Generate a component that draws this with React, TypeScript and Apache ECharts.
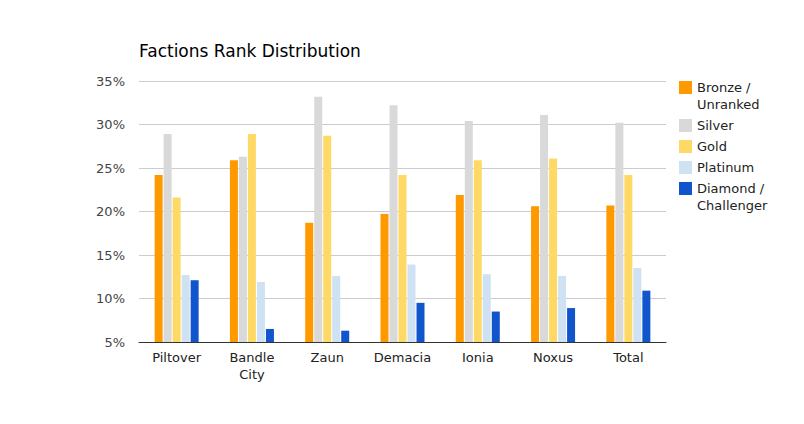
import { useEffect, useRef } from "react";
import * as echarts from "echarts";

const factions = ["Piltover", "Bandle\nCity", "Zaun", "Demacia", "Ionia", "Noxus", "Total"];
const bronze = [24.2, 25.9, 18.7, 19.7, 21.9, 20.6, 20.7];
const silver = [28.9, 26.3, 33.2, 32.2, 30.4, 31.1, 30.2];
const gold = [21.6, 28.9, 28.7, 24.2, 25.9, 26.1, 24.2];
const platinum = [12.7, 11.9, 12.6, 13.9, 12.8, 12.6, 13.5];
const diamond = [12.1, 6.5, 6.3, 9.5, 8.5, 8.9, 10.9];

const seriesDefs = [
  { name: "Bronze /\nUnranked", data: bronze, color: "#ff9900" },
  { name: "Silver", data: silver, color: "#d9d9d9" },
  { name: "Gold", data: gold, color: "#ffd966" },
  { name: "Platinum", data: platinum, color: "#cfe2f3" },
  { name: "Diamond /\nChallenger", data: diamond, color: "#1155cc" },
];

const FONT = "'DejaVu Sans', sans-serif";

const legendBase = {
  orient: "vertical",
  left: 679,
  padding: 0,
  itemWidth: 13,
  itemHeight: 13,
  itemGap: 4,
  icon: "rect",
  // two-line names get a blank first line so the square sits beside line one
  formatter: (name: string) => (name.includes("\n") ? "\n" + name : name),
  textStyle: { fontFamily: FONT, fontSize: 13, color: "#222", lineHeight: 17 },
};

export default function App() {
  const ref = useRef<HTMLDivElement | null>(null);

  useEffect(() => {
    if (!ref.current) return;
    const chart = echarts.init(ref.current, null, { renderer: "svg" });
    chart.setOption({
      animation: false,
      backgroundColor: "#fff",
      textStyle: { fontFamily: FONT },
      title: {
        text: "Factions Rank Distribution",
        left: 139,
        top: 42,
        padding: 0,
        textStyle: { fontFamily: FONT, fontSize: 17, fontWeight: "normal", color: "#000" },
      },
      legend: [
        { ...legendBase, top: 62, data: seriesDefs.slice(0, 4).map((s) => s.name) },
        { ...legendBase, top: 163, data: seriesDefs.slice(4).map((s) => s.name) },
      ],
      grid: { left: 139, right: 138, top: 81, bottom: 82 },
      xAxis: {
        type: "category",
        data: factions,
        axisLine: { lineStyle: { color: "#333", width: 1 } },
        axisTick: { show: false },
        axisLabel: {
          interval: 0,
          margin: 7,
          color: "#222",
          fontFamily: FONT,
          fontSize: 13,
          lineHeight: 17,
        },
      },
      yAxis: {
        type: "value",
        min: 5,
        max: 35,
        interval: 5,
        axisLine: { show: false },
        axisTick: { show: false },
        splitLine: { lineStyle: { color: "#cccccc", width: 1 } },
        axisLabel: {
          formatter: "{value}%",
          margin: 14,
          color: "#444",
          fontFamily: FONT,
          fontSize: 13,
        },
      },
      series: seriesDefs.map((s) => ({
        name: s.name,
        type: "bar",
        data: s.data,
        barWidth: 8,
        barGap: "12.5%",
        itemStyle: { color: s.color },
      })),
    });
    return () => chart.dispose();
  }, []);

  return (
    <div
      ref={ref}
      style={{ position: "fixed", left: 0, top: 0, width: 804, height: 424 }}
    />
  );
}
